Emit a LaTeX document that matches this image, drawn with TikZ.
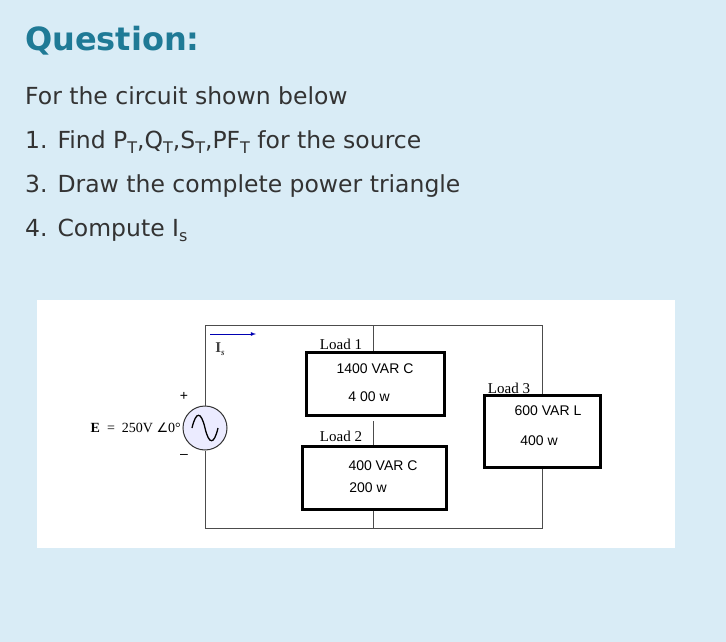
\documentclass[tikz,border=0pt]{standalone}
\usepackage{fontspec}
\setmainfont{DejaVu Sans}
\newfontfamily\serifx{Liberation Serif}
\newfontfamily\arialx{Liberation Sans}
\newfontfamily\djv{DejaVu Sans}
\definecolor{bg}{HTML}{D9ECF6}
\definecolor{ttl}{HTML}{1F7A96}
\definecolor{txt}{HTML}{333333}
\newcommand{\lowsub}[1]{\raisebox{-0.45ex}{\fontsize{16}{17}\selectfont #1}}
\begin{document}
\begin{tikzpicture}[x=1pt,y=-1pt,
  body/.style={anchor=base west,inner sep=0,text=txt,font=\fontsize{23.5}{27}\selectfont},
  wire/.style={draw=black!70,line width=0.8pt},
  loadbox/.style={draw=black,line width=3pt},
  lbl/.style={inner sep=0,font=\serifx\fontsize{15}{17}\selectfont},
  val/.style={inner sep=0,font=\arialx\fontsize{14}{16}\selectfont}]
\fill[bg] (0,0) rectangle (726,642);
\useasboundingbox (0,0) rectangle (726,642);
\node[anchor=base west,inner sep=0,text=ttl,font=\bfseries\fontsize{32}{35}\selectfont] (title) at (25,51) {Question:};
\node[body] (l1) at (25,105) {For the circuit shown below};
\node[body] (l2) at (25,148) {1. Find P\lowsub{T},Q\lowsub{T},S\lowsub{T},PF\lowsub{T} for the source};
\node[body] (l3) at (25,192) {3. Draw the complete power triangle};
\node[body] (l4) at (25,236) {4. Compute I\lowsub{s}};
\fill[white] (37,300) rectangle (675,548);
\coordinate (tl) at (205,325); \coordinate (tm) at (373,325); \coordinate (tr) at (542,325);
\coordinate (bl) at (205,528); \coordinate (bm) at (373,528); \coordinate (br) at (542,528);
\node[draw=black!80,line width=1pt,fill=blue!8,circle,minimum size=44pt,inner sep=0] (src) at (205,428) {};
\draw[line width=1.3pt] ([xshift=-13pt]src.center) .. controls +(4,-17) and +(-4,-17) .. (src.center) .. controls +(4,17) and +(-4,17) .. ([xshift=13pt]src.center);
\node[loadbox,minimum width=138pt,minimum height=63pt,inner sep=0] (L1) at (375,383.5) {};
\node[loadbox,minimum width=144pt,minimum height=63pt,inner sep=0] (L2) at (374,477.5) {};
\node[loadbox,minimum width=116pt,minimum height=72pt,inner sep=0] (L3) at (542,431) {};
\draw[wire] (src.north) -- (tl) -- (tr) -- (L3.north);
\draw[wire] (src.south) -- (bl) -- (br) -- (L3.south);
\draw[wire] (tm) -- (tm |- L1.north);
\draw[wire] (L2.north -| tm) -- +(0,-24);
\draw[wire] (L2.south -| tm) -- (bm);
\node[lbl] at (341,344) {Load 1};
\node[lbl] at (341,436) {Load 2};
\node[lbl] at (509,388) {Load 3};
\node[val] at (375,369) {1400 VAR C};
\node[val] at (369,397) {4 00 w};
\node[val] at (383,466) {400 VAR C};
\node[val] at (368,488) {200 w};
\node[val] at (548,411) {600 VAR L};
\node[val] at (539,441) {400 w};
\node[inner sep=0,font=\serifx\bfseries\fontsize{15}{17}\selectfont,text=black!75] (is) at (220,349) {I\raisebox{-0.4ex}{\fontsize{9}{10}\selectfont\textit{s}}};
\draw[-latex,draw=blue!70!black,thick] (210,334) -- (256,334);
\node[inner sep=0,font=\arialx\fontsize{14}{16}\selectfont] at (184,396) {+};
\node[inner sep=0,font=\arialx\fontsize{14}{16}\selectfont] at (184,456) {–};
\node[inner sep=0,anchor=east,font=\serifx\fontsize{14}{16}\selectfont] (E) at (181,428) {\textbf{E} \ = \ 250V {\djv\fontsize{13}{15}\selectfont ∠}0°};
\end{tikzpicture}
\end{document}
